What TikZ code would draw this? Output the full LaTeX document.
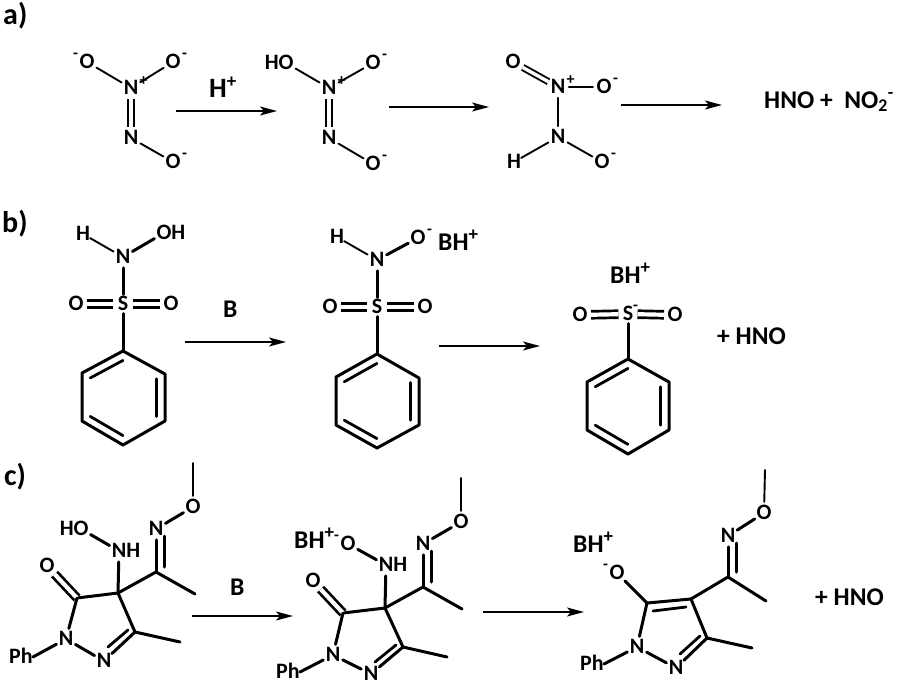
\documentclass[tikz,border=0pt]{standalone}
\usepackage{fontspec}
\setmainfont{Carlito}
\usetikzlibrary{positioning, calc, arrows.meta}

\newcommand{\supp}{\textsuperscript{\fontsize{19}{19}\selectfont +}}

\tikzset{
  atom/.style={circle, inner sep=0.5pt, font=\fontsize{22}{22}\selectfont\bfseries, text height=13.8pt, text depth=0pt},
  atomlab/.style={inner sep=0pt, font=\fontsize{22}{22}\selectfont\bfseries, text height=13.8pt, text depth=0pt},
  chg/.style={inner sep=0pt, font=\fontsize{16}{16}\selectfont\bfseries},
  bold text/.style={inner sep=0pt, anchor=base west, font=\fontsize{25.5}{25.5}\selectfont\bfseries},
  panel/.style={inner sep=0pt, anchor=base west, font=\fontsize{30}{30}\selectfont\bfseries},
  posne/.style={label={[chg,xshift=12.5pt,yshift=7pt]center:+}},
  negne/.style={label={[chg,xshift=11.5pt,yshift=6pt]center:-}},
  negnw/.style={label={[chg,xshift=-11.5pt,yshift=6pt]center:-}},
  negs/.style={label={[chg,xshift=7.5pt,yshift=6pt]center:-}},
  hleft/.style={label={[atomlab,xshift=-14.3pt]center:H}},
  hright/.style={label={[atomlab,xshift=14.3pt]center:H}},
  thin bond/.style={line width=1.9pt, line cap=round},
  thin dbl/.style={line width=1.9pt, double, double distance=3.4pt},
  bond/.style={line width=3pt, line cap=round},
  dbl/.style={line width=2.7pt, double, double distance=4.2pt},
  inner bond/.style={line width=2.8pt, line cap=round},
  rxn/.style={line width=1.5pt, -{Stealth[length=17pt, width=9pt, inset=4pt]}}
}

\begin{document}
\begin{tikzpicture}[x=1pt, y=-1pt]
  \useasboundingbox (0,0) rectangle (898,686);

  \node[panel] (la) at (3,24) {a)};
  \node[panel] (lb) at (2,232) {b)};
  \node[panel] (lc) at (4,485) {c)};

  \node[atom, negnw] (ao1) at (87,62) {O};
  \node[atom, negne] (ao2) at (173,62) {O};
  \node[atom, posne] (an1) at (131,88) {N};
  \node[atom] (an2) at (131,138) {N};
  \node[atom, negne] (ao3) at (173,162) {O};
  \draw[thin bond] (ao1) -- (an1);
  \draw[thin bond] (ao2) -- (an1);
  \draw[thin dbl] (an1) -- (an2);
  \draw[thin bond] (an2) -- (ao3);

  \node[bold text, font=\fontsize{28}{28}\selectfont\bfseries] (hplus) at (209,97) {H\supp};
  \coordinate (arra1) at (176,111);
  \coordinate (arra2) at (277,111);
  \draw[rxn] (arra1) -- (arra2);

  \node[atom, hleft] (bo1) at (286,63) {O};
  \node[atom, negne] (bo2) at (373,63) {O};
  \node[atom, posne] (bn1) at (329,88) {N};
  \node[atom] (bn2) at (329,138) {N};
  \node[atom, negne] (bo3) at (373,164) {O};
  \draw[thin bond] (bo1) -- (bn1);
  \draw[thin bond] (bo2) -- (bn1);
  \draw[thin dbl] (bn1) -- (bn2);
  \draw[thin bond] (bn2) -- (bo3);

  \coordinate (arrb1) at (389,107);
  \coordinate (arrb2) at (489,107);
  \draw[rxn] (arrb1) -- (arrb2);

  \node[atom] (co1) at (513,62) {O};
  \node[atom, posne] (cn1) at (558,87) {N};
  \node[atom, negne] (co2) at (604,87) {O};
  \node[atom] (cn2) at (558,137) {N};
  \node[atomlab] (ch1) at (514,162) {H};
  \node[atom, negne] (co3) at (602,162) {O};
  \draw[thin dbl] (co1) -- (cn1);
  \draw[thin bond] (cn1) -- (co2);
  \draw[thin bond] (cn1) -- (cn2);
  \draw[thin bond] (cn2) -- (ch1);
  \draw[thin bond] (cn2) -- (co3);

  \coordinate (arrc1) at (621,105);
  \coordinate (arrc2) at (722,105);
  \draw[rxn] (arrc1) -- (arrc2);
  \node[bold text] (prod1) at (764,108) {HNO +\ \ NO\textsubscript{2}\textsuperscript{-}};

  \node[atomlab] (dh) at (83,234) {H};
  \node[atom, hright] (do1) at (164,233) {O};
  \node[atom] (dn) at (123,257) {N};
  \node[atom] (ds) at (123,304) {S};
  \node[atom] (do2) at (76,304) {O};
  \node[atom] (do3) at (171,304) {O};
  \coordinate (dr1) at (123,351);
  \coordinate (dr2) at (165,374);
  \coordinate (dr3) at (165,421);
  \coordinate (dr4) at (123,445);
  \coordinate (dr5) at (82,421);
  \coordinate (dr6) at (82,373);
  \coordinate (drc) at (123,398);
  \draw[thin bond] (dh) -- (dn);
  \draw[bond] (do1) -- (dn);
  \draw[bond] (dn) -- (ds);
  \draw[dbl] (ds) -- (do2);
  \draw[dbl] (ds) -- (do3);
  \draw[bond] (ds) -- (dr1);
  \draw[bond, line join=round] (dr1) -- (dr2) -- (dr3) -- (dr4) -- (dr5) -- (dr6) -- cycle;
  \draw[inner bond] ($(dr1)!.2!(drc)$) -- ($(dr6)!.2!(drc)$);
  \draw[inner bond] ($(dr2)!.2!(drc)$) -- ($(dr3)!.2!(drc)$);
  \draw[inner bond] ($(dr4)!.2!(drc)$) -- ($(dr5)!.2!(drc)$);

  \node[bold text] (base1) at (223,317) {B};
  \coordinate (arrd1) at (185,342);
  \coordinate (arrd2) at (286,342);
  \draw[rxn] (arrd1) -- (arrd2);

  \node[atomlab] (eh) at (337,237) {H};
  \node[atom, negne] (eo1) at (418,238) {O};
  \node[atom] (en) at (377,260) {N};
  \node[atom] (es) at (377,307) {S};
  \node[atom] (eo2) at (330,307) {O};
  \node[atom] (eo3) at (425,307) {O};
  \node[bold text] (bh1) at (438,250) {BH\supp};
  \coordinate (er1) at (377,354);
  \coordinate (er2) at (419,378);
  \coordinate (er3) at (419,425);
  \coordinate (er4) at (377,448);
  \coordinate (er5) at (336,425);
  \coordinate (er6) at (336,377);
  \coordinate (erc) at (377,401);
  \draw[thin bond] (eh) -- (en);
  \draw[bond] (eo1) -- (en);
  \draw[bond] (en) -- (es);
  \draw[dbl] (es) -- (eo2);
  \draw[dbl] (es) -- (eo3);
  \draw[bond] (es) -- (er1);
  \draw[bond, line join=round] (er1) -- (er2) -- (er3) -- (er4) -- (er5) -- (er6) -- cycle;
  \draw[inner bond] ($(er1)!.2!(erc)$) -- ($(er6)!.2!(erc)$);
  \draw[inner bond] ($(er2)!.2!(erc)$) -- ($(er3)!.2!(erc)$);
  \draw[inner bond] ($(er4)!.2!(erc)$) -- ($(er5)!.2!(erc)$);

  \coordinate (arre1) at (439,346);
  \coordinate (arre2) at (540,346);
  \draw[rxn] (arre1) -- (arre2);

  \node[bold text] (bh2) at (610,283) {BH\supp};
  \node[atom, negs] (fs) at (628,314) {S};
  \node[atom] (fo1) at (580,315) {O};
  \node[atom] (fo2) at (675,315) {O};
  \coordinate (fr1) at (628,359);
  \coordinate (fr2) at (669,382);
  \coordinate (fr3) at (669,430);
  \coordinate (fr4) at (628,454);
  \coordinate (fr5) at (587,430);
  \coordinate (fr6) at (587,382);
  \coordinate (frc) at (628,406);
  \draw[dbl] (fs) -- (fo1);
  \draw[dbl] (fs) -- (fo2);
  \draw[bond] (fs) -- (fr1);
  \draw[bond, line join=round] (fr1) -- (fr2) -- (fr3) -- (fr4) -- (fr5) -- (fr6) -- cycle;
  \draw[inner bond] ($(fr1)!.2!(frc)$) -- ($(fr6)!.2!(frc)$);
  \draw[inner bond] ($(fr2)!.2!(frc)$) -- ($(fr3)!.2!(frc)$);
  \draw[inner bond] ($(fr4)!.2!(frc)$) -- ($(fr5)!.2!(frc)$);
  \node[bold text] (prod2) at (717,344) {+ HNO};

  \coordinate (gme1) at (193,463);
  \node[atom] (go1) at (193,507) {O};
  \node[atom] (gn1) at (156,529) {N};
  \coordinate (gc1) at (156,572);
  \coordinate (gme2) at (195,594);
  \coordinate (gc2) at (118,593);
  \node[atom, hright] (gn2) at (119,551) {N};
  \node[atom, hleft] (go2) at (81,529) {O};
  \coordinate (gc3) at (77,598);
  \node[atom] (go3) at (47,566) {O};
  \node[atom] (gn3) at (66,639) {N};
  \node[atom] (gn4) at (104,661) {N};
  \coordinate (gc4) at (135,632);
  \coordinate (gme3) at (180,642);
  \node[atomlab] (gph) at (21,657) {Ph};
  \draw[thin bond] (gme1) -- (go1);
  \draw[bond] (go1) -- (gn1);
  \draw[bond] (gn1) -- (gc1);
  \draw[bond] ($(gn1)+(8.5,7)$) -- ($(gc1)+(8.5,-5)$);
  \draw[bond] (gc1) -- (gme2);
  \draw[bond] (gc1) -- (gc2);
  \draw[bond] (gn2) -- (gc2);
  \draw[bond] (go2) -- (gn2);
  \draw[bond] (gc2) -- (gc3);
  \draw[bond] (gc2) -- (gc4);
  \draw[dbl] (gc3) -- (go3);
  \draw[bond] (gc3) -- (gn3);
  \draw[bond] (gn3) -- (gn4);
  \draw[bond] (gn4) -- (gc4);
  \draw[inner bond] ($(gn4)+(4,-14)$) -- ($(gc4)+(-7,-2)$);
  \draw[bond] (gc4) -- (gme3);
  \draw[bond] (gph.east) -- (gn3);

  \node[bold text] (base2) at (230,595) {B};
  \coordinate (arrg1) at (192,616);
  \coordinate (arrg2) at (293,616);
  \draw[rxn] (arrg1) -- (arrg2);

  \coordinate (hme1) at (461,478);
  \node[atom] (ho1) at (461,522) {O};
  \node[atom] (hn1) at (423,544) {N};
  \coordinate (hc1) at (423,587);
  \coordinate (hme2) at (462,609);
  \coordinate (hc2) at (385,608);
  \node[atom, hright] (hn2) at (386,565) {N};
  \node[atom, negnw] (ho2) at (348,544) {O};
  \node[bold text] (bh3) at (294,548) {BH\supp};
  \coordinate (hc3) at (343,613);
  \node[atom] (ho3) at (313,581) {O};
  \node[atom] (hn3) at (333,655) {N};
  \node[atom] (hn4) at (371,674) {N};
  \coordinate (hc4) at (403,647);
  \coordinate (hme3) at (447,657);
  \node[atomlab] (hph) at (288,672) {Ph};
  \draw[thin bond] (hme1) -- (ho1);
  \draw[bond] (ho1) -- (hn1);
  \draw[bond] (hn1) -- (hc1);
  \draw[bond] ($(hn1)+(8.5,7)$) -- ($(hc1)+(8.5,-5)$);
  \draw[bond] (hc1) -- (hme2);
  \draw[bond] (hc1) -- (hc2);
  \draw[bond] (hn2) -- (hc2);
  \draw[bond] (ho2) -- (hn2);
  \draw[bond] (hc2) -- (hc3);
  \draw[bond] (hc2) -- (hc4);
  \draw[dbl] (hc3) -- (ho3);
  \draw[bond] (hc3) -- (hn3);
  \draw[bond] (hn3) -- (hn4);
  \draw[bond] (hn4) -- (hc4);
  \draw[inner bond] ($(hn4)+(4,-12)$) -- ($(hc4)+(-7,-2)$);
  \draw[bond] (hc4) -- (hme3);
  \draw[bond] (hph.east) -- (hn3);

  \coordinate (arrh1) at (483,612);
  \coordinate (arrh2) at (584,612);
  \draw[rxn] (arrh1) -- (arrh2);

  \coordinate (ime1) at (765,470);
  \node[atom] (io1) at (764,513) {O};
  \node[atom] (in1) at (728,536) {N};
  \coordinate (ic1) at (728,577);
  \coordinate (ime2) at (766,601);
  \coordinate (ic2) at (691,599);
  \coordinate (ic3) at (647,603);
  \node[atom, negnw] (io2) at (617,573) {O};
  \node[bold text] (bh4) at (573,552) {BH\supp};
  \node[atom] (in3) at (637,647) {N};
  \node[atom] (in4) at (676,668) {N};
  \coordinate (ic4) at (707,638);
  \coordinate (ime3) at (752,648);
  \node[atomlab] (iph) at (592,664) {Ph};
  \draw[thin bond] (ime1) -- (io1);
  \draw[bond] (io1) -- (in1);
  \draw[bond] (in1) -- (ic1);
  \draw[bond] ($(in1)+(8.5,7)$) -- ($(ic1)+(8.5,-5)$);
  \draw[bond] (ic1) -- (ime2);
  \draw[bond] (ic1) -- (ic2);
  \draw[bond] (ic2) -- (ic3);
  \draw[inner bond] ($(ic3)+(6,8)$) -- ($(ic2)+(-5,8)$);
  \draw[bond] (ic2) -- (ic4);
  \draw[bond] (ic3) -- (io2);
  \draw[bond] (ic3) -- (in3);
  \draw[bond] (in3) -- (in4);
  \draw[bond] (in4) -- (ic4);
  \draw[inner bond] ($(in4)+(4,-14)$) -- ($(ic4)+(-7,-2)$);
  \draw[bond] (ic4) -- (ime3);
  \draw[bond] (iph.east) -- (in3);
  \node[bold text] (prod3) at (815,605) {+ HNO};
\end{tikzpicture}
\end{document}
